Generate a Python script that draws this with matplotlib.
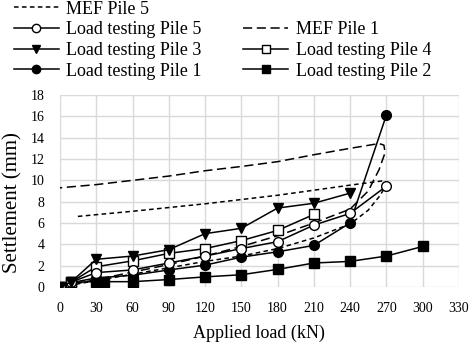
import matplotlib
matplotlib.use('Agg')
import matplotlib.pyplot as plt
from matplotlib.lines import Line2D

plt.rcParams['font.family'] = ['Liberation Serif', 'DejaVu Serif']

# load test results (load in kN, settlement in mm)
load_lt = [0, 9, 30, 60, 90, 120, 150, 180, 210, 240, 270]
pile1 = [0, 0.4, 0.85, 1.1, 1.6, 2.05, 2.8, 3.3, 3.9, 6.0, 16.1]
pile5 = [0, 0.45, 1.35, 1.6, 2.25, 2.9, 3.6, 4.25, 5.8, 6.9, 9.45]

load_p2 = [0, 9, 30, 36, 60, 90, 120, 150, 180, 210, 240, 270, 300]
pile2 = [0, 0.45, 0.5, 0.5, 0.5, 0.7, 0.95, 1.15, 1.65, 2.25, 2.4, 2.9, 3.8]

load_p3 = [0, 9, 30, 60, 90, 120, 150, 180, 210, 240]
pile3 = [0, 0.45, 2.6, 2.9, 3.5, 5.0, 5.5, 7.4, 7.85, 8.8]

load_p4 = [0, 9, 30, 60, 90, 120, 150, 180, 210]
pile4 = [0, 0.45, 1.9, 2.45, 3.15, 3.6, 4.35, 5.3, 6.8]

# MEF curves: loading branch up to peak, then unloading branch back
mef1_load = [0, 30, 60, 90, 120, 150, 180, 210, 240, 255, 264, 269, 268,
             264, 240, 210, 180, 150, 120, 90, 60, 30, 0]
mef1_sett = [0, 0.7, 1.4, 2.1, 2.9, 3.8, 4.8, 6.0, 7.3, 9.0, 11.0, 12.6, 13.3,
             13.45, 13.0, 12.4, 11.75, 11.3, 10.9, 10.4, 10.0, 9.6, 9.3]
mef5_load = [0, 30, 60, 90, 120, 150, 180, 210, 240, 255, 265, 270, 267,
             240, 180, 120, 60, 13]
mef5_sett = [0, 0.6, 1.2, 1.8, 2.4, 2.9, 3.6, 4.6, 5.9, 7.2, 8.6, 9.6, 9.95,
             9.55, 8.6, 7.8, 7.1, 6.6]

xticks = list(range(0, 331, 30))
yticks = list(range(0, 19, 2))

fig = plt.figure(figsize=(4.74, 3.46), dpi=100)
ax = fig.add_axes([0.1266, 0.1705, 0.8414, 0.5549])

lw = 1.1
ax.plot(mef5_load, mef5_sett, color='black', lw=lw, dashes=(3, 2.2))
ax.plot(mef1_load, mef1_sett, color='black', lw=lw, dashes=(6, 3))
ax.plot(load_p2, pile2, color='black', lw=lw, marker='s', ms=7)
ax.plot(load_lt, pile1, color='black', lw=lw, marker='o', ms=7)
ax.plot(load_p4, pile4, color='black', lw=lw, marker='s', ms=7, mfc='white')
ax.plot(load_lt, pile5, color='black', lw=lw, marker='o', ms=7, mfc='white')
ax.plot(load_p3, pile3, color='black', lw=lw, marker='v', ms=7)

ax.set_xlim(0, 330)
ax.set_ylim(0, 18)
ax.set_xticks(xticks)
ax.set_yticks(yticks)
ax.tick_params(length=0, labelsize=10, pad=11)
ax.grid(True, color='#d9d9d9', lw=1)
ax.set_axisbelow(True)
for s in ax.spines.values():
    s.set_visible(False)
ax.set_xlabel('Applied load (kN)', fontsize=13, labelpad=7)
ax.set_ylabel('Settlement (mm)', fontsize=15)
ax.yaxis.set_label_coords(-0.095, 0.44)

# legend rows as laid out above the plot
def h(marker=None, mfc='black', dashes=None):
    if dashes:
        return Line2D([], [], color='black', lw=lw, dashes=dashes)
    return Line2D([], [], color='black', lw=lw, marker=marker, ms=6, mfc=mfc)

blank = Line2D([], [], alpha=0)
handles = [h(dashes=(3, 2.2)), h('o', 'white'), h('v'), h('o'),
           blank, h(dashes=(6, 3)), h('s', 'white'), h('s')]
labels = ['MEF Pile 5', 'Load testing Pile 5', 'Load testing Pile 3', 'Load testing Pile 1',
          '', 'MEF Pile 1', 'Load testing Pile 4', 'Load testing Pile 2']
fig.legend(handles, labels, ncol=2, loc='upper left', bbox_to_anchor=(-0.005, 1.045),
           frameon=False, fontsize=13, handlelength=2.5, columnspacing=2.3,
           labelspacing=0.2, handletextpad=0.4)

fig.savefig('out.png', dpi=100)
